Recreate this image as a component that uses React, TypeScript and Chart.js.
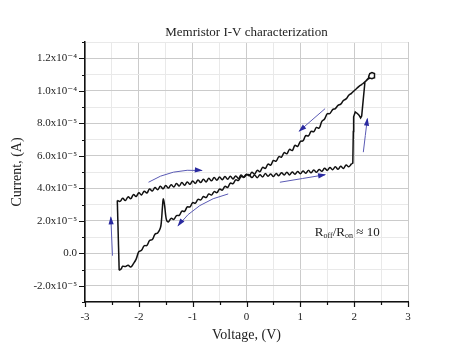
import React, { useEffect, useRef } from "react";
import { Chart, registerables } from "chart.js";

Chart.register(...registerables);

// ---- Data (voltage in V, current in units of 1e-5 A) ----
// Lower branch, positive sweep 0 -> +2 V
const lowPosV = [0.05, 0.1, 0.15, 0.2, 0.25, 0.3, 0.35, 0.4, 0.45, 0.5, 0.55, 0.6, 0.65, 0.7, 0.75, 0.8, 0.85, 0.9, 0.95, 1.0, 1.05, 1.1, 1.15, 1.2, 1.25, 1.3, 1.35, 1.4, 1.45, 1.5, 1.55, 1.6, 1.65, 1.7, 1.75, 1.8, 1.85, 1.9, 1.95];
const lowPosI = [4.83, 4.66, 4.81, 4.65, 4.83, 4.7, 4.9, 4.74, 4.88, 4.72, 4.9, 4.77, 4.96, 4.82, 4.98, 4.82, 5.0, 4.86, 5.03, 4.89, 5.06, 4.92, 5.1, 4.95, 5.13, 4.98, 5.16, 5.04, 5.23, 5.1, 5.28, 5.14, 5.32, 5.17, 5.35, 5.22, 5.43, 5.32, 5.5];
// SET switching near +2 V and the small loop at the turning point
const tipV = [1.975, 1.984, 1.99, 2.02, 2.06, 2.09, 2.12, 2.14, 2.17, 2.2, 2.25, 2.29, 2.33, 2.37, 2.385, 2.37, 2.33, 2.29, 2.275, 2.27, 2.22];
const tipI = [5.55, 7.5, 8.4, 8.69, 8.6, 8.5, 8.33, 8.45, 9.5, 10.54, 10.7, 10.78, 10.74, 10.8, 10.93, 11.06, 11.12, 11.06, 10.93, 10.8, 10.62];
// Upper branch, return sweep +2.15 -> 0 V
const upPosV = [2.15, 2.1, 2.05, 2.0, 1.95, 1.9, 1.85, 1.8, 1.75, 1.7, 1.65, 1.6, 1.55, 1.5, 1.45, 1.4, 1.35, 1.3, 1.25, 1.2, 1.15, 1.1, 1.05, 1.0, 0.95, 0.9, 0.85, 0.8, 0.75, 0.7, 0.65, 0.6, 0.55, 0.5, 0.45, 0.4, 0.35, 0.3, 0.25, 0.2, 0.15, 0.1, 0.05, 0.0];
const upPosI = [10.4, 10.3, 10.15, 10.0, 9.84, 9.72, 9.5, 9.4, 9.18, 9.1, 8.9, 8.84, 8.6, 8.58, 8.26, 8.12, 7.7, 7.74, 7.48, 7.5, 7.22, 7.24, 6.92, 6.88, 6.57, 6.64, 6.32, 6.39, 6.12, 6.19, 5.92, 5.94, 5.67, 5.71, 5.42, 5.49, 5.22, 5.29, 5.02, 5.1, 4.87, 4.98, 4.77, 4.86];
// Lower branch, negative sweep 0 -> -2.4 V
const lowNegV = [-0.05, -0.1, -0.15, -0.2, -0.25, -0.3, -0.35, -0.4, -0.45, -0.5, -0.55, -0.6, -0.65, -0.7, -0.75, -0.8, -0.85, -0.9, -0.95, -1.0, -1.05, -1.1, -1.15, -1.2, -1.25, -1.3, -1.35, -1.4, -1.45, -1.48, -1.5, -1.52, -1.545, -1.56, -1.58, -1.6, -1.65, -1.7, -1.75, -1.8, -1.85, -1.9, -1.95, -2.0, -2.05, -2.1, -2.15, -2.2, -2.25, -2.3, -2.33, -2.365];
const lowNegI = [4.7, 4.72, 4.48, 4.52, 4.28, 4.32, 4.05, 4.12, 3.88, 3.95, 3.73, 3.79, 3.58, 3.65, 3.43, 3.49, 3.28, 3.32, 3.08, 3.12, 2.85, 2.85, 2.58, 2.59, 2.33, 2.32, 2.08, 2.15, 1.93, 2.0, 2.3, 2.9, 3.35, 2.9, 2.0, 1.55, 1.25, 1.17, 0.84, 0.78, 0.48, 0.46, 0.18, 0.1, -0.36, -0.64, -0.85, -0.74, -0.82, -0.8, -0.97, -1.05];
// Upper branch, return sweep -2.4 -> 0 V
const upNegV = [-2.4, -2.35, -2.3, -2.25, -2.2, -2.15, -2.1, -2.05, -2.0, -1.95, -1.9, -1.85, -1.8, -1.75, -1.7, -1.65, -1.6, -1.55, -1.5, -1.45, -1.4, -1.35, -1.3, -1.25, -1.2, -1.15, -1.1, -1.05, -1.0, -0.95, -0.9, -0.85, -0.8, -0.75, -0.7, -0.65, -0.6, -0.55, -0.5, -0.45, -0.4, -0.35, -0.3, -0.25, -0.2, -0.15, -0.1, -0.05, 0.0];
const upNegI = [3.25, 3.19, 3.38, 3.24, 3.47, 3.36, 3.61, 3.49, 3.72, 3.59, 3.82, 3.71, 3.96, 3.83, 4.05, 3.91, 4.12, 3.97, 4.17, 4.01, 4.22, 4.08, 4.29, 4.14, 4.35, 4.19, 4.39, 4.24, 4.45, 4.3, 4.51, 4.35, 4.55, 4.39, 4.61, 4.46, 4.66, 4.5, 4.69, 4.53, 4.72, 4.55, 4.74, 4.57, 4.76, 4.6, 4.81, 4.66, 4.82];

// Sweep-direction arrows (start, control, end) in data units
const arrowStartV = [-1.82, -0.34, -2.49, 0.62, 1.46, 2.17];
const arrowStartI = [4.37, 3.65, -0.15, 4.37, 8.9, 6.22];
const arrowCtrlV = [-1.39, -0.93, -2.505, 1.04, 1.22, 2.207];
const arrowCtrlI = [5.25, 3.19, 1.03, 4.6, 8.21, 7.25];
const arrowEndV = [-0.83, -1.27, -2.52, 1.46, 0.98, 2.245];
const arrowEndI = [5.09, 1.7, 2.21, 4.83, 7.52, 8.28];

// Tick labels
const yTickLabels: Record<string, string> = {
  "-2": "-2.0x10\u207B\u2075",
  "0": "0.0",
  "2": "2.0x10\u207B\u2075",
  "4": "4.0x10\u207B\u2075",
  "6": "6.0x10\u207B\u2075",
  "8": "8.0x10\u207B\u2075",
  "10": "1.0x10\u207B\u2074",
  "12": "1.2x10\u207B\u2074",
};
const xTickLabels: Record<string, string> = {
  "-3": "-3", "-2": "-2", "-1": "-1", "0": "0", "1": "1", "2": "2", "3": "3",
};

const SERIF = "'Liberation Serif', 'Times New Roman', 'DejaVu Serif', serif";
const TEXT = "#222";

export default function App() {
  const ref = useRef<HTMLCanvasElement>(null);

  useEffect(() => {
    const canvas = ref.current;
    if (!canvas) return;

    const toPts = (vs: number[], is: number[]) => vs.map((v, k) => ({ x: v, y: is[k] }));
    const last = (vs: number[], is: number[]) => ({ x: vs[vs.length - 1], y: is[is.length - 1] });
    const first = (vs: number[], is: number[]) => ({ x: vs[0], y: is[0] });

    // smooth (noisy) branches and sharp switching segments
    const smoothA = [...toPts(upNegV, upNegI), ...toPts(lowPosV, lowPosI)];
    const sharpB = [last(lowPosV, lowPosI), ...toPts(tipV, tipI), first(upPosV, upPosI)];
    const smoothC = [...toPts(upPosV, upPosI), ...toPts(lowNegV, lowNegI)];
    const sharpD = [last(lowNegV, lowNegI), first(upNegV, upNegI)];

    const line = (data: any[], tension: number) => ({
      data,
      showLine: true,
      borderColor: "#111",
      borderWidth: 1.5,
      pointRadius: 0,
      tension,
      fill: false,
    });

    const tickMarks = {
      id: "tickMarks",
      afterDraw(chart: any) {
        const { ctx, chartArea, scales } = chart;
        ctx.save();
        ctx.strokeStyle = "#111";
        ctx.lineWidth = 1.2;
        ctx.beginPath();
        scales.y.ticks.forEach((t: any) => {
          const y = Math.round(scales.y.getPixelForValue(t.value)) + 0.5;
          const major = Math.round(t.value) % 2 === 0;
          const len = major ? 6 : 3;
          ctx.moveTo(chartArea.left - len, y);
          ctx.lineTo(chartArea.left, y);
        });
        scales.x.ticks.forEach((t: any) => {
          const x = Math.round(scales.x.getPixelForValue(t.value)) + 0.5;
          const major = Math.abs(t.value - Math.round(t.value)) < 1e-6;
          const len = major ? 5 : 3;
          ctx.moveTo(x, chartArea.bottom);
          ctx.lineTo(x, chartArea.bottom + len);
        });
        ctx.stroke();
        ctx.restore();
      },
    };

    const arrows = {
      id: "arrows",
      afterDatasetsDraw(chart: any) {
        const { ctx, scales } = chart;
        const sx = scales.x, sy = scales.y;
        ctx.save();
        for (let k = 0; k < arrowStartV.length; k++) {
          const x0 = sx.getPixelForValue(arrowStartV[k]);
          const y0 = sy.getPixelForValue(arrowStartI[k]);
          const cx = sx.getPixelForValue(arrowCtrlV[k]);
          const cy = sy.getPixelForValue(arrowCtrlI[k]);
          const x1 = sx.getPixelForValue(arrowEndV[k]);
          const y1 = sy.getPixelForValue(arrowEndI[k]);
          ctx.strokeStyle = "#5a5ab4";
          ctx.lineWidth = 1;
          ctx.beginPath();
          ctx.moveTo(x0, y0);
          ctx.quadraticCurveTo(cx, cy, x1, y1);
          ctx.stroke();
          const ang = Math.atan2(y1 - cy, x1 - cx);
          const L = 7, W = 2.6;
          ctx.fillStyle = "#2a2aa0";
          ctx.beginPath();
          ctx.moveTo(x1 + Math.cos(ang) * 1, y1 + Math.sin(ang) * 1);
          ctx.lineTo(x1 - Math.cos(ang) * L - Math.sin(ang) * W, y1 - Math.sin(ang) * L + Math.cos(ang) * W);
          ctx.lineTo(x1 - Math.cos(ang) * L + Math.sin(ang) * W, y1 - Math.sin(ang) * L - Math.cos(ang) * W);
          ctx.closePath();
          ctx.fill();
        }
        ctx.restore();
      },
    };

    const ratioText = {
      id: "ratioText",
      afterDraw(chart: any) {
        const { ctx, scales } = chart;
        let x = scales.x.getPixelForValue(1.27);
        const y = scales.y.getPixelForValue(1.08);
        ctx.save();
        ctx.fillStyle = TEXT;
        ctx.textBaseline = "alphabetic";
        ctx.textAlign = "left";
        const parts: [string, boolean][] = [["R", false], ["off", true], ["/R", false], ["on", true], [" \u2248 10", false]];
        parts.forEach(([s, sub]) => {
          ctx.font = sub ? `8px ${SERIF}` : `13px ${SERIF}`;
          ctx.fillText(s, x, sub ? y + 2 : y);
          x += ctx.measureText(s).width;
        });
        ctx.restore();
      },
    };

    const chart = new Chart(canvas, {
      type: "scatter",
      data: {
        datasets: [line(smoothA, 0.4), line(sharpB, 0), line(smoothC, 0.4), line(sharpD, 0)],
      },
      options: {
        animation: false,
        responsive: false,
        devicePixelRatio: 1,
        layout: { padding: { left: 0, right: 66, top: 0, bottom: 0 } },
        plugins: {
          legend: { display: false },
          tooltip: { enabled: false },
          title: {
            display: true,
            text: "Memristor I-V characterization",
            color: TEXT,
            font: { family: SERIF, size: 13, weight: "normal" },
            padding: { top: 25, bottom: 1.4 },
            fullSize: false,
          },
        },
        scales: {
          x: {
            type: "linear",
            min: -3,
            max: 3,
            ticks: {
              stepSize: 0.5,
              autoSkip: false,
              maxRotation: 0,
              padding: 9,
              color: TEXT,
              font: { family: SERIF, size: 11 },
              callback: (v: any) => xTickLabels[String(v)] ?? "",
            },
            grid: {
              drawTicks: false,
              color: (c: any) => (Math.abs(c.tick.value - Math.round(c.tick.value)) < 1e-6 ? "#cbcbcb" : "#e9e9e9"),
              lineWidth: 1,
            },
            border: { display: true, color: "#111", width: 1.5 },
            title: {
              display: true,
              text: "Voltage, (V)",
              color: TEXT,
              font: { family: SERIF, size: 14 },
              padding: { top: 0, bottom: 18 },
            },
            afterFit: (s: any) => {
              s.height = 60;
            },
          },
          y: {
            type: "linear",
            min: -3,
            max: 13,
            ticks: {
              stepSize: 1,
              autoSkip: false,
              padding: 8,
              color: TEXT,
              font: { family: SERIF, size: 11 },
              callback: (v: any) => yTickLabels[String(Math.round(v))] ?? "",
            },
            grid: {
              drawTicks: false,
              color: (c: any) => (Math.round(c.tick.value) % 2 === 0 ? "#cbcbcb" : "#e9e9e9"),
              lineWidth: 1,
            },
            border: { display: true, color: "#111", width: 1.5 },
            title: {
              display: true,
              text: "Current, (A)",
              color: TEXT,
              font: { family: SERIF, size: 14 },
              padding: { top: 9, bottom: 0 },
            },
            afterFit: (s: any) => {
              s.width = 85;
            },
          },
        },
      },
      plugins: [tickMarks, arrows, ratioText],
    } as any);

    return () => chart.destroy();
  }, []);

  return (
    <div style={{ position: "absolute", left: 0, top: 0, width: 474, height: 362, background: "#fff" }}>
      <canvas ref={ref} width={474} height={362} style={{ display: "block" }} />
    </div>
  );
}
